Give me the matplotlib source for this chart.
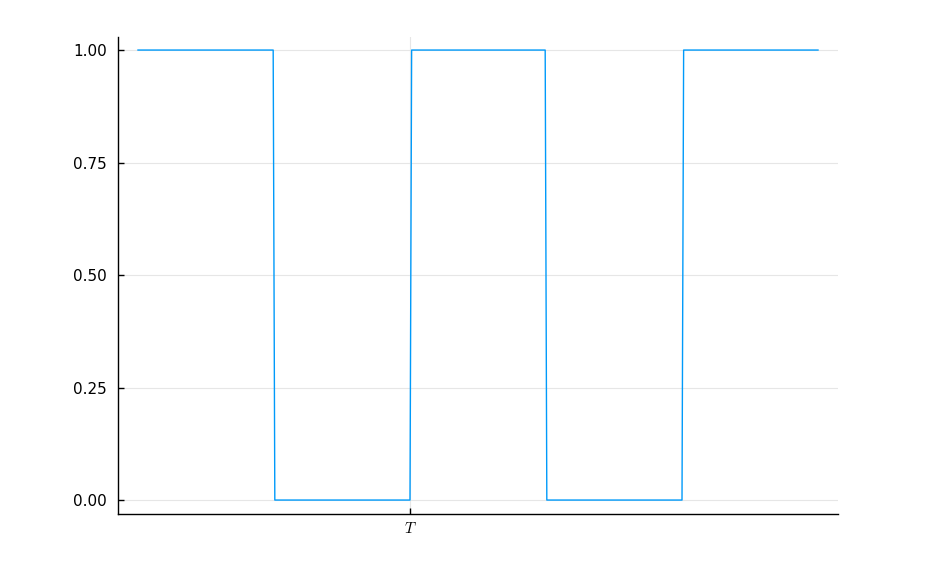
import matplotlib
matplotlib.use("Agg")
import matplotlib.pyplot as plt

# square wave vertices (x in units of T)
x_vals = [0.0, 0.497, 0.503, 1.0, 1.006, 1.497, 1.503, 2.0, 2.006, 2.5]
y_vals = [1.0, 1.0, 0.0, 0.0, 1.0, 1.0, 0.0, 0.0, 1.0, 1.0]
x_ticks = [1.0]
x_ticklabels = ["$T$"]
y_ticks = [0.0, 0.25, 0.5, 0.75, 1.0]
y_ticklabels = ["0.00", "0.25", "0.50", "0.75", "1.00"]

plt.rcParams["mathtext.fontset"] = "cm"
fig = plt.figure(figsize=(9.45, 5.64), dpi=100)
ax = fig.add_axes([118/945, 50/564, 720/945, 477/564])
ax.plot(x_vals, y_vals, color="#009AFA", lw=1.0)
xmin, xmax = min(x_vals), max(x_vals)
ax.set_xlim(xmin - (xmax - xmin) * 0.0294, xmax + (xmax - xmin) * 0.0294)
ax.set_ylim(-0.031, 1.029)
ax.set_xticks(x_ticks)
ax.set_xticklabels(x_ticklabels, fontsize=11)
ax.set_yticks(y_ticks)
ax.set_yticklabels(y_ticklabels, fontsize=11)
ax.tick_params(direction="in", length=4, width=1, color="black")
ax.tick_params(axis="y", pad=8)
ax.tick_params(axis="x", pad=5)
ax.grid(True, color="#e6e6e6", lw=0.8)
ax.set_axisbelow(True)
for s in ["top", "right"]:
    ax.spines[s].set_visible(False)
for s in ["left", "bottom"]:
    ax.spines[s].set_linewidth(1.0)
fig.savefig("out.png", dpi=100)
